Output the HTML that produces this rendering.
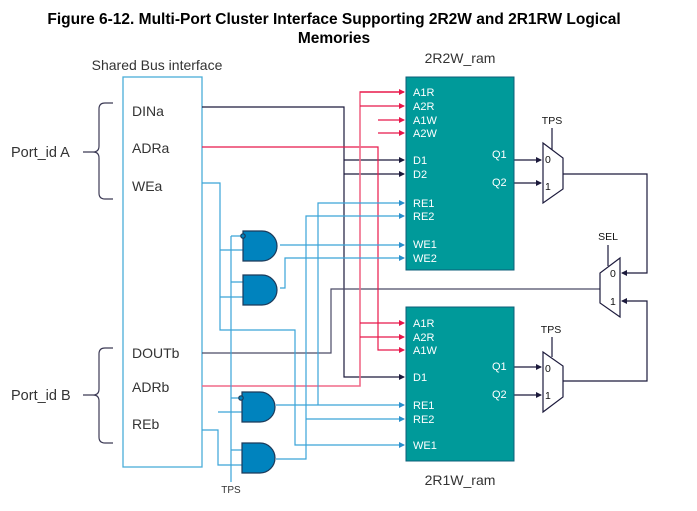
<!DOCTYPE html>
<html><head><style>
body{margin:0;background:#fff}
svg{display:block;font-family:"Liberation Sans",Arial,sans-serif}
</style></head><body>
<svg width="697" height="511" viewBox="0 0 697 511" xmlns="http://www.w3.org/2000/svg">
<defs>
<marker id="ar" markerWidth="6" markerHeight="6" refX="5" refY="3" orient="auto" markerUnits="userSpaceOnUse"><path d="M0,0 L6,3 L0,6z" fill="#e8174a"/></marker>
<marker id="ab" markerWidth="6" markerHeight="6" refX="5" refY="3" orient="auto" markerUnits="userSpaceOnUse"><path d="M0,0 L6,3 L0,6z" fill="#2a8fcc"/></marker>
<marker id="ak" markerWidth="6" markerHeight="6" refX="5" refY="3" orient="auto" markerUnits="userSpaceOnUse"><path d="M0,0 L6,3 L0,6z" fill="#1c1a3c"/></marker>
</defs>
<text x="334" y="24" font-size="15.5" font-weight="bold" text-anchor="middle">Figure 6-12. Multi-Port Cluster Interface Supporting 2R2W and 2R1RW Logical</text>
<text x="334" y="43" font-size="15.5" font-weight="bold" text-anchor="middle">Memories</text>
<text x="157" y="70" font-size="14" text-anchor="middle" fill="#333">Shared Bus interface</text>
<text x="460" y="63" font-size="14" text-anchor="middle" fill="#333">2R2W_ram</text>
<text x="460" y="485" font-size="14" text-anchor="middle" fill="#333">2R1W_ram</text>

<rect x="123" y="77" width="79" height="390" fill="none" stroke="#4aaed8" stroke-width="1.3"/>
<g font-size="14" fill="#333">
<text x="132" y="116">DINa</text><text x="132" y="153">ADRa</text><text x="132" y="191">WEa</text>
<text x="132" y="358">DOUTb</text><text x="132" y="392">ADRb</text><text x="132" y="429">REb</text>
</g>
<g font-size="14.5" fill="#333">
<text x="11" y="157">Port_id A</text><text x="11" y="400">Port_id B</text>
</g>
<g fill="none" stroke="#3c3a55" stroke-width="1.2">
<path d="M113,103 h-8 q-6,0 -6,6 v37 q0,6 -6,6 h-10 M93,152 q6,0 6,6 v35 q0,6 6,6 h8"/>
<path d="M113,348 h-8 q-6,0 -6,6 v35 q0,6 -6,6 h-10 M93,395 q6,0 6,6 v36 q0,6 6,6 h8"/>
</g>

<g fill="none" stroke="#1c1a3c" stroke-width="1.2">
<path d="M202,107 H344 V377 H404" marker-end="url(#ak)"/>
<path d="M344,160 H404" marker-end="url(#ak)"/>
<path d="M344,174 H404" marker-end="url(#ak)"/>
<path d="M202,353 H331 V289 H600" stroke="#4a4a66"/>
<path d="M514,160 H541" marker-end="url(#ak)"/><path d="M514,183 H541" marker-end="url(#ak)"/>
<path d="M514,367 H541" marker-end="url(#ak)"/><path d="M514,395 H541" marker-end="url(#ak)"/>
<path d="M563,174 H647 V273 H622" marker-end="url(#ak)"/>
<path d="M563,381 H647 V301 H622" marker-end="url(#ak)"/>
<path d="M552,128 V150 M552,337 V357 M608,245 V266"/>
</g>
<g fill="none" stroke="#e8174a" stroke-width="1.2">
<path d="M202,147 H378 V350 H404" marker-end="url(#ar)"/>
<path d="M378,120 H404" marker-end="url(#ar)"/><path d="M378,133 H404" marker-end="url(#ar)"/>
<path d="M202,386 H360 V92 H404" stroke="#f06a88" stroke-width="1.6"/>
<path d="M360,92 H404" marker-end="url(#ar)"/><path d="M360,106 H404" marker-end="url(#ar)"/>
<path d="M360,323 H404" marker-end="url(#ar)"/><path d="M360,337 H404" marker-end="url(#ar)"/>
</g>
<g fill="none" stroke="#3aa4d8" stroke-width="1.2">
<path d="M202,183 H220 V330 H295 V445 H404" marker-end="url(#ab)"/>
<path d="M220,250 H243 M220,297 H243"/>
<path d="M231,236 H243 M231,236 V482 M231,282 H243 M231,398 H242 M231,450 H242"/>
<path d="M202,430 H218 V465 H242 M218,412 H242"/>
<path d="M280,245 H404" marker-end="url(#ab)"/>
<path d="M280,288 H285 V258 H404" marker-end="url(#ab)"/>
<path d="M276,405 H404" marker-end="url(#ab)"/>
<path d="M318,405 V203 H404" marker-end="url(#ab)"/>
<path d="M276,459 H306 V216 H404" marker-end="url(#ab)"/>
<path d="M306,419 H404" marker-end="url(#ab)"/>
</g>
<g fill="#0083be" stroke="#1c3a5a" stroke-width="1.2">
<path d="M243,231 H262 A15,15 0 0 1 262,261 H243z"/>
<path d="M243,275 H262 A15,15 0 0 1 262,305 H243z"/>
<path d="M242,392 H260 A15,15 0 0 1 260,422 H242z"/>
<path d="M242,443 H260 A15,15 0 0 1 260,473 H242z"/>
<circle cx="243" cy="236" r="2.2"/><circle cx="241" cy="398" r="2.2"/>
</g>
<text x="231" y="493" font-size="10" text-anchor="middle" fill="#333">TPS</text>

<rect x="406" y="77" width="108" height="193" fill="#009a9a" stroke="#0d5f78" stroke-width="1"/>
<rect x="406" y="307" width="108" height="154" fill="#009a9a" stroke="#0d5f78" stroke-width="1"/>
<g font-size="11" fill="#fff">
<text x="413" y="96">A1R</text><text x="413" y="110">A2R</text><text x="413" y="124">A1W</text><text x="413" y="137">A2W</text>
<text x="413" y="164">D1</text><text x="413" y="178">D2</text><text x="413" y="207">RE1</text><text x="413" y="220">RE2</text>
<text x="413" y="248">WE1</text><text x="413" y="262">WE2</text>
<text x="492" y="158">Q1</text><text x="492" y="186">Q2</text>
<text x="413" y="327">A1R</text><text x="413" y="341">A2R</text><text x="413" y="354">A1W</text>
<text x="413" y="381">D1</text><text x="413" y="409">RE1</text><text x="413" y="423">RE2</text><text x="413" y="449">WE1</text>
<text x="492" y="370">Q1</text><text x="492" y="398">Q2</text>
</g>
<g fill="#fff" stroke="#1c1a3c" stroke-width="1.2">
<path d="M543,143 L563,158 V189 L543,203z"/>
<path d="M543,352 L563,366 V397 L543,412z"/>
<path d="M620,258 L600,273 V303 L620,317z"/>
</g>
<g font-size="10.5" fill="#111">
<text x="545" y="163">0</text><text x="545" y="190">1</text>
<text x="545" y="372">0</text><text x="545" y="399">1</text>
<text x="610" y="277">0</text><text x="610" y="305">1</text>
<text x="552" y="124" text-anchor="middle">TPS</text>
<text x="551" y="333" text-anchor="middle">TPS</text>
<text x="608" y="240" text-anchor="middle">SEL</text>
</g>
</svg>
</body></html>
